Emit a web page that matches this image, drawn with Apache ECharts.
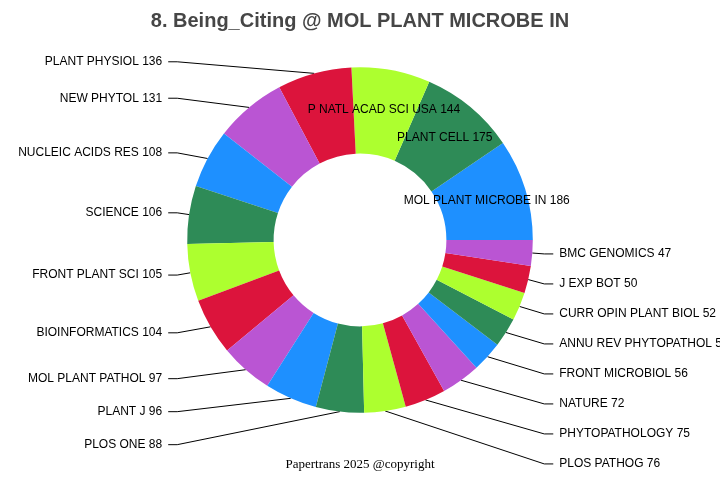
<!DOCTYPE html>
<html>
<head>
<meta charset="utf-8">
<script src="https://cdn.jsdelivr.net/npm/echarts@6/dist/echarts.min.js"></script>
<style>
  html, body { margin: 0; padding: 0; background: #fff; }
  #chart { width: 720px; height: 480px; }
</style>
</head>
<body>
<div id="chart"></div>
<script>
// journals citing MOL PLANT MICROBE IN, sorted by count
var journals = [
  'MOL PLANT MICROBE IN', 'PLANT CELL', 'P NATL ACAD SCI USA', 'PLANT PHYSIOL',
  'NEW PHYTOL', 'NUCLEIC ACIDS RES', 'SCIENCE', 'FRONT PLANT SCI',
  'BIOINFORMATICS', 'MOL PLANT PATHOL', 'PLANT J', 'PLOS ONE',
  'PLOS PATHOG', 'PHYTOPATHOLOGY', 'NATURE', 'FRONT MICROBIOL',
  'ANNU REV PHYTOPATHOL', 'CURR OPIN PLANT BIOL', 'J EXP BOT', 'BMC GENOMICS'
];
var counts = [186, 175, 144, 136, 131, 108, 106, 105, 104, 97, 96, 88, 76, 75, 72, 56, 54, 52, 50, 47];
var insideCount = 3; // the biggest slices carry their label on the ring
var palette = ['#1E90FF', '#2E8B57', '#ADFF2F', '#DC143C', '#BA55D3'];
var tailLen = 9; // short horizontal end of each label line

var total = 0;
for (var k = 0; k < counts.length; k++) total += counts[k];

var pieData = [];
var acc = 0;
for (var i = 0; i < journals.length; i++) {
  var item = { name: journals[i], value: counts[i] };
  var mid = (acc + counts[i] / 2) / total;
  acc += counts[i];
  if (i < insideCount) {
    item.label = { position: 'inside', lineHeight: 14 };
  } else if (mid > 0.75) {
    // lower right quarter packs its labels a bit tighter
    item.label = { lineHeight: 28 };
  }
  pieData.push(item);
}

var chart = echarts.init(document.getElementById('chart'));
chart.setOption({
  color: palette,
  title: [{
    text: '8. Being_Citing @ MOL PLANT MICROBE IN',
    left: 'center',
    top: 6,
    textStyle: { fontFamily: 'Liberation Sans, Arial', fontSize: 20, fontWeight: 'bold', color: '#464646' }
  }, {
    text: 'Papertrans 2025 @copyright',
    left: 'center',
    bottom: 4,
    textStyle: { fontFamily: 'Liberation Serif, Times New Roman', fontSize: 13, fontWeight: 'normal', color: '#000' }
  }],
  series: [{
    type: 'pie',
    center: ['50%', '50%'],
    radius: ['36%', '72%'],
    startAngle: 0,
    clockwise: false,
    avoidLabelOverlap: true,
    label: {
      show: true,
      position: 'outer',
      formatter: '{b} {c}',
      fontFamily: 'Liberation Sans, Arial',
      fontSize: 12,
      lineHeight: 31,
      color: '#000',
      overflow: 'none',
      alignTo: 'labelLine',
      distanceToLabelLine: 6
    },
    labelLine: {
      show: true,
      length: 12,
      length2: tailLen,
      lineStyle: { color: '#000', width: 1 }
    },
    // keep the horizontal tail short: the slanted part runs straight to the label row
    labelLayout: function (params) {
      var pts = params.labelLinePoints;
      if (!pts || pts.length < 3) return {};
      var dir = pts[2][0] >= pts[0][0] ? 1 : -1;
      pts[1] = [pts[2][0] - dir * tailLen, pts[2][1]];
      return { labelLinePoints: pts };
    },
    data: pieData
  }]
});
</script>
</body>
</html>
